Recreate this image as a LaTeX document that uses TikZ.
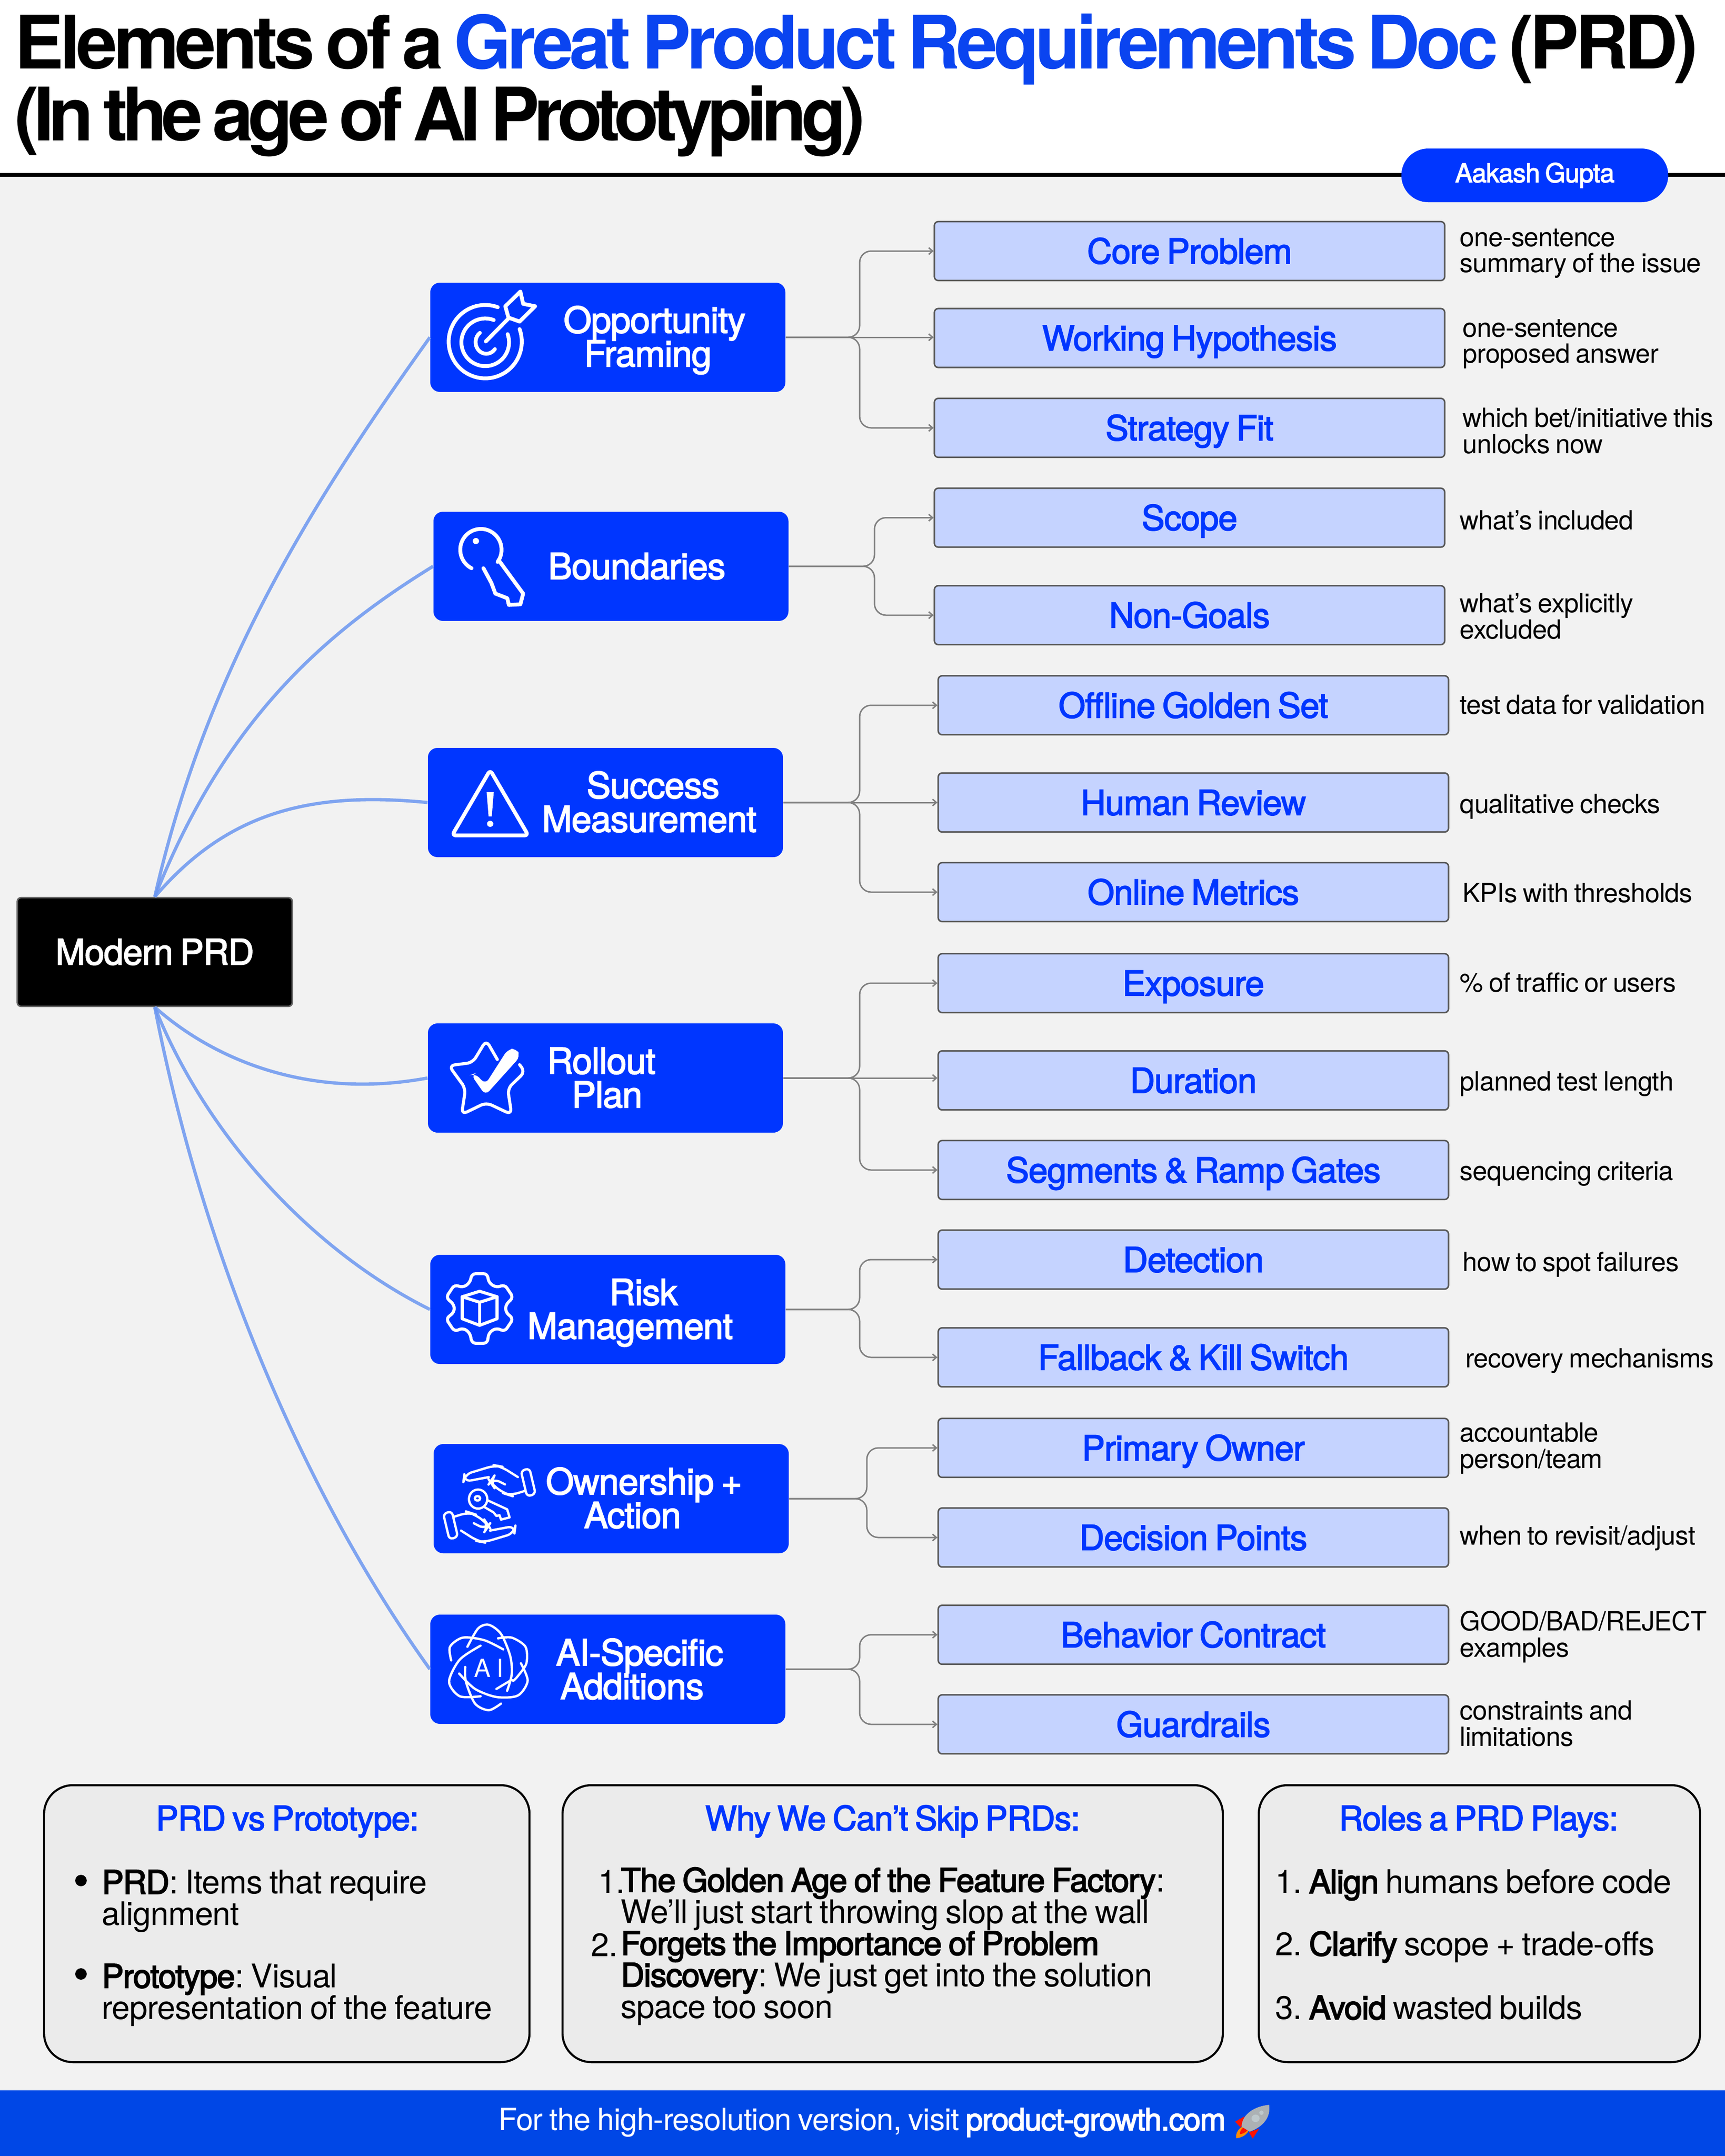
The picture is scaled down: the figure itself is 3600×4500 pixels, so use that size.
\documentclass[tikz,border=0pt]{standalone}
\usepackage{fontspec}
\setmainfont{TeX Gyre Heros}[LetterSpace=-1.5,WordSpace=0.8]
\newfontfamily\medf{TeX Gyre Heros}[FakeBold=2.5,LetterSpace=-1.5,WordSpace=0.75]
\newfontfamily\hbf{TeX Gyre Heros}[FakeBold=3,LetterSpace=-2,WordSpace=0.8]
\newfontfamily\ttlf{TeX Gyre Heros Bold}[LetterSpace=-5.4,WordSpace=0.65]
\newfontfamily\ttlg{TeX Gyre Heros Bold}[LetterSpace=-7.6,WordSpace=0.65]
\newcommand{\hb}[1]{{\hbf #1}}
\usetikzlibrary{arrows.meta,calc}
\definecolor{bgc}{HTML}{F2F2F2}
\definecolor{royal}{HTML}{0036FF}
\definecolor{titleblue}{HTML}{0A44F0}
\definecolor{foot}{HTML}{0047E6}
\definecolor{leaffill}{HTML}{C5D3FF}
\definecolor{edgeblue}{HTML}{6C97F0}
\definecolor{panel}{HTML}{EBEBEB}
\newcommand{\fs}[2]{\fontsize{#1}{#2}\selectfont\lineskiplimit=-20pt \frenchspacing }
\tikzset{
  x=0.25pt,y=-0.25pt,
  blue box/.style={fill=royal,rounded corners=5pt,minimum width=185.25pt,minimum height=57pt,inner sep=0pt},
  blue text/.style={text=white,align=center,font=\medf\fs{18.8}{17.6},inner sep=0pt,
     execute at begin node={\rule{0pt}{17.3pt}},execute at end node={\rule[-4pt]{0pt}{4pt}}},
  leafbox/.style={fill=leaffill,draw=black!65,line width=0.8pt,rounded corners=2pt,minimum width=266.25pt,minimum height=30.75pt,inner sep=0pt,
     text=royal,font=\medf\fs{18}{20},text height=17pt,text depth=4pt},
  note/.style={anchor=west,align=left,font=\fs{13.8}{13.7},inner sep=0pt,
     execute at begin node={\rule{0pt}{12.5pt}},execute at end node={\rule[-3pt]{0pt}{3pt}}},
  trunk/.style={draw=edgeblue,line width=1.7pt,opacity=.85},
  branch/.style={draw=black!50,line width=0.75pt,rounded corners=6pt,-{Straight Barb[length=2pt,width=3.5pt]}},
  panelbox/.style={fill=panel,draw=black,line width=1.1pt,rounded corners=15pt,inner sep=0pt},
  panelhead/.style={text=royal,font=\medf\fs{17.5}{18},inner sep=0pt,text height=16pt,text depth=4pt},
  paneltext/.style={anchor=west,align=left,font=\fs{17}{16.5},inner sep=0pt,
     execute at begin node={\rule{0pt}{16.8pt}},execute at end node={\rule[-4pt]{0pt}{4pt}}},
  icon/.style={draw=white,line width=2pt,line cap=round,line join=round},
  iconmid/.style={draw=white,line width=1.6pt,line cap=round,line join=round},
  iconthin/.style={draw=white,line width=1.2pt,line cap=round,line join=round},
}
\newcommand{\fork}[3]{\draw[branch] (#1.east) -- (#1.east -| #2) -- (#2 |- #3.west) -- (#3.west);}
\newcommand{\straightfork}[2]{\draw[branch] (#1.east) -- (#1.east -| #2.west);}
\newcommand{\handglyph}{%
   \draw[iconthin,rounded corners=4pt] (440,762) -- (385,733) -- (365,730) -- (265,755) -- (262,775) -- (345,762);
   \draw[iconthin,rounded corners=2pt] (450,745) -- (478,738) -- (498,808) -- (470,815) -- cycle;
   \draw[iconthin,rounded corners=4pt] (462,800) -- (415,812) -- (400,808) -- (358,785) -- (350,775) -- (358,765) -- (398,782);
}
\begin{document}
\begin{tikzpicture}
\useasboundingbox (0,0) rectangle (3600,4500);
\fill[bgc] (0,0) rectangle (3600,4500);
\fill[white] (0,0) rectangle (3600,365);
\draw[black,line width=2pt] (0,365) -- (3600,365);
\fill[foot] (0,4363) rectangle (3600,4500);
% title
\node[anchor=base west,inner sep=0pt,font=\ttlf\fs{38.5}{38}] (t1) at (30,143) {Elements of a \textcolor{titleblue}{Great Product Requirements Doc} (PRD)};
\node[anchor=base west,inner sep=0pt,font=\ttlg\fs{38.5}{38}] (t2) at (30,293) {(In the age of AI Prototyping)};
\node[fill=royal,text=white,rounded corners=14pt,minimum width=139.25pt,minimum height=28pt,inner sep=0pt,font=\medf\fs{13.6}{14}] (author) at (3203,366) {Aakash Gupta};
% root
\node[fill=black,draw=black!60,line width=0.8pt,rounded corners=2pt,minimum width=143.5pt,minimum height=56.75pt,inner sep=0pt,text=white,font=\medf\fs{18.5}{18}] (prd) at (323,1987) {Modern PRD};
% categories
\node[blue box] (opp) at (1268.5,704) {};
\node[blue box] (bnd) at (1275,1182) {};
\node[blue box] (suc) at (1263.5,1675) {};
\node[blue box] (rol) at (1263.5,2250) {};
\node[blue box] (rsk) at (1268.5,2733) {};
\node[blue box] (own) at (1275.5,3128) {};
\node[blue box] (ais) at (1268.5,3484) {};
\node[blue text] (opptxt) at (1366,710) {Opportunity\\Framing\hspace*{7pt}};
\node[blue text] (bndtxt) at (1329,1182) {Boundaries};
\node[blue text] (suctxt) at (1355,1681) {\hspace*{4pt}Success\\Measurement};
\node[blue text] (roltxt) at (1255,2257) {Rollout\\\hspace*{6pt}Plan};
\node[blue text] (rsktxt) at (1315,2740) {\hspace*{14pt}Risk\\Management};
\node[blue text] (owntxt) at (1344,3134) {Ownership +\\Action\hspace*{12pt}};
\node[blue text] (aistxt) at (1335,3491) {AI-Specific\\Additions\hspace*{8pt}};
% leaves
\node[leafbox] (l1) at (2482.5,524) {Core Problem};
\node[leafbox] (l2) at (2482.5,705.5) {Working Hypothesis};
\node[leafbox] (l3) at (2482.5,893) {Strategy Fit};
\node[leafbox] (l4) at (2482.5,1080.5) {Scope};
\node[leafbox] (l5) at (2482.5,1284) {Non-Goals};
\node[leafbox] (l6) at (2490.5,1472) {Offline Golden Set};
\node[leafbox] (l7) at (2490.5,1675) {Human Review};
\node[leafbox] (l8) at (2490.5,1862) {Online Metrics};
\node[leafbox] (l9) at (2490.5,2052) {Exposure};
\node[leafbox] (l10) at (2490.5,2255) {Duration};
\node[leafbox] (l11) at (2490.5,2442) {Segments \& Ramp Gates};
\node[leafbox] (l12) at (2490.5,2629) {Detection};
\node[leafbox] (l13) at (2490.5,2833) {Fallback \& Kill Switch};
\node[leafbox] (l14) at (2490.5,3022) {Primary Owner};
\node[leafbox] (l15) at (2490.5,3209) {Decision Points};
\node[leafbox] (l16) at (2490.5,3412) {Behavior Contract};
\node[leafbox] (l17) at (2490.5,3599) {Guardrails};
% notes
\node[note] (n1) at (3046,529) {one-sentence\\summary of the issue};
\node[note] (n2) at (3052,718) {one-sentence\\proposed answer};
\node[note] (n3) at (3052,905) {which bet/initiative this\\unlocks now};
\node[note] (n4) at (3046,1086) {what’s included};
\node[note] (n5) at (3046,1292) {what’s explicitly\\excluded};
\node[note] (n6) at (3046,1471) {test data for validation};
\node[note] (n7) at (3046,1678) {qualitative checks};
\node[note] (n8) at (3052,1864) {KPIs with thresholds};
\node[note] (n9) at (3046,2051) {\% of traffic or users};
\node[note] (n10) at (3046,2257) {planned test length};
\node[note] (n11) at (3046,2444) {sequencing criteria};
\node[note] (n12) at (3052,2634) {how to spot failures};
\node[note] (n13) at (3058,2835) {recovery mechanisms};
\node[note] (n14) at (3046,3023) {accountable\\person/team};
\node[note] (n15) at (3046,3205) {when to revisit/adjust};
\node[note] (n16) at (3046,3416) {GOOD/BAD/REJECT\\examples};
\node[note] (n17) at (3046,3603) {constraints and\\limitations};
% trunk curves
\draw[trunk] (prd.north) .. controls (430,1400) and (650,1050) .. (opp.west);
\draw[trunk] (prd.north) .. controls (470,1500) and (680,1320) .. (bnd.west);
\draw[trunk] (prd.north) .. controls (470,1700) and (640,1650) .. (suc.west);
\draw[trunk] (prd.south) .. controls (450,2215) and (650,2295) .. (rol.west);
\draw[trunk] (prd.south) .. controls (430,2370) and (650,2610) .. (rsk.west);
\draw[trunk] (prd.south) .. controls (430,2650) and (650,3140) .. (ais.west);
% junction columns
\coordinate (j1) at (1794,704);
\coordinate (j2) at (1825,1182);
\coordinate (j3) at (1794,1675);
\coordinate (j4) at (1794,2250);
\coordinate (j5) at (1794,2733);
\coordinate (j6) at (1809,3128);
\coordinate (j7) at (1794,3484);
\fork{opp}{j1}{l1}\straightfork{opp}{l2}\fork{opp}{j1}{l3}
\fork{bnd}{j2}{l4}\fork{bnd}{j2}{l5}
\fork{suc}{j3}{l6}\straightfork{suc}{l7}\fork{suc}{j3}{l8}
\fork{rol}{j4}{l9}\straightfork{rol}{l10}\fork{rol}{j4}{l11}
\fork{rsk}{j5}{l12}\fork{rsk}{j5}{l13}
\fork{own}{j6}{l14}\fork{own}{j6}{l15}
\fork{ais}{j7}{l16}\fork{ais}{j7}{l17}
% icon: target
\begin{scope}[shift={(800,400)},xscale=.829,yscale=.638]
 \draw[icon] (288,378) arc[start angle=-70,end angle=-380,x radius=92,y radius=120];
 \draw[icon] (278,420) arc[start angle=-69,end angle=-380,x radius=60,y radius=78];
 \draw[icon] (243,462) arc[start angle=-127,end angle=-323,x radius=27,y radius=38];
 \draw[icon] (258,490) -- (315,415);
 \draw[icon] (315,412) -- (307,375) -- (345,327) -- (352,367) -- (382,375) -- (343,425) -- cycle;
 % icon: key
 \draw[icon] (222,1232) arc[start angle=117,end angle=396,x radius=52,y radius=68];
 \fill[white] (233,1143) ellipse[x radius=8,y radius=10];
 \draw[icon] (290,1205) -- (352,1315) -- (345,1350) -- (316,1352) -- (312,1330) -- (282,1315) -- (272,1280) -- (252,1232);
\end{scope}
% icon: warning and star
\begin{scope}[shift={(0,1500)},xscale=.829,yscale=.638]
 \draw[icon,rounded corners=2pt] (1234,168) -- (1330,382) -- (1138,382) -- cycle;
 \fill[white] (1225,240) -- (1243,240) -- (1238,320) -- (1230,320) -- cycle;
 \fill[white] (1234,344) ellipse[x radius=8,y radius=10];
 \draw[iconmid,rounded corners=3pt] (1252,1115) -- (1224,1052) -- (1190,1125) -- (1130,1135) -- (1172,1210) -- (1162,1295) -- (1224,1256) -- (1288,1295) -- (1278,1210) -- (1322,1155) -- (1308,1132);
 \fill[white,rounded corners=3pt] (1186,1165) -- (1196,1160) -- (1222,1196) -- (1278,1082) -- (1300,1078) -- (1310,1105) -- (1222,1232) -- cycle;
\end{scope}
% icons: gear, hands, atom
\begin{scope}[shift={(800,2500)},xscale=.638,yscale=.765]
 \draw[iconmid,rounded corners=2pt] (290,207) -- (340,207) -- (345,232) -- (370,245) -- (397,237) -- (425,272) -- (400,292) -- (400,312) -- (425,330) -- (397,365) -- (370,355) -- (345,368) -- (340,397) -- (290,397) -- (283,368) -- (260,355) -- (233,365) -- (205,330) -- (232,312) -- (232,292) -- (205,272) -- (233,237) -- (260,245) -- (283,232) -- cycle;
 \draw[iconmid] (258,270) -- (315,255) -- (372,270) -- (372,330) -- (315,348) -- (258,330) -- cycle;
 \draw[iconmid] (258,270) -- (315,285) -- (372,270) (315,285) -- (315,348);
 \handglyph
 \begin{scope}[shift={(694,1670)},xscale=-1,yscale=-1]\handglyph\end{scope}
 \draw[iconthin] (310,822) ellipse[x radius=30,y radius=26];
 \draw[iconthin] (308,820) ellipse[x radius=9,y radius=6];
 \draw[iconthin] (340,825) -- (405,850) -- (413,872) -- (385,878) -- (380,866) -- (370,868) -- (360,858) -- (333,845);
 \draw[iconthin] plot[smooth] coordinates {(275,1225) (310,1175) (345,1165) (385,1190) (415,1250) (420,1300) (405,1345)};
 \draw[iconthin] plot[smooth] coordinates {(385,1380) (345,1398) (300,1380) (270,1320) (268,1280)};
 \draw[iconthin] plot[smooth] coordinates {(392,1232) (330,1207) (260,1200) (218,1225) (222,1262)};
 \draw[iconthin] plot[smooth] coordinates {(375,1202) (420,1200) (465,1225) (468,1270) (440,1305) (425,1318)};
 \draw[iconthin] plot[smooth] coordinates {(248,1298) (300,1340) (370,1362) (440,1358) (472,1318) (450,1270)};
 \draw[iconthin] plot[smooth] coordinates {(318,1222) (250,1260) (215,1320) (250,1360) (318,1360)};
 \draw[iconthin] (370,1340) -- (420,1315);
 \node[inner sep=0pt,text=white,font=\fs{13}{13}] (aiglyph) at (345,1283) {A\hspace{3pt}I};
\end{scope}
% panels
\node[panelbox,minimum width=253.25pt,minimum height=144.5pt] (p1) at (598.5,4015) {};
\node[panelbox,minimum width=344.5pt,minimum height=144.5pt] (p2) at (1863,4015) {};
\node[panelbox,minimum width=230.25pt,minimum height=144.5pt] (p3) at (3087.5,4015) {};
\node[panelhead] (h1) at (600,3796) {PRD vs Prototype:};
\node[panelhead] (h2) at (1863,3796) {Why We Can’t Skip PRDs:};
\node[panelhead] (h3) at (3086,3796) {Roles a PRD Plays:};
\node[fill=black,circle,minimum size=6pt,inner sep=0pt] (b1) at (169,3925) {};
\node[fill=black,circle,minimum size=6pt,inner sep=0pt] (b2) at (169,4120) {};
\node[paneltext] (a1) at (212,3969) {\hb{PRD}: Items that require\\alignment};
\node[paneltext] (a2) at (212,4165) {\hb{Prototype}: Visual\\representation of the feature};
\node[paneltext] (m1) at (1248,3926) {1.};
\node[paneltext] (m2) at (1233,4058) {2.};
\node[paneltext] (m3) at (1295,4063) {\hb{The Golden Age of the Feature Factory}:\\We’ll just start throwing slop at the wall\\\hb{Forgets the Importance of Problem}\\\hb{Discovery}: We just get into the solution\\space too soon};
\node[paneltext] (r1) at (2661,3926) {1. \hb{Align} humans before code};
\node[paneltext] (r2) at (2661,4056) {2. \hb{Clarify} scope + trade-offs};
\node[paneltext] (r3) at (2661,4189) {3. \hb{Avoid} wasted builds};
% footer
\node[inner sep=0pt,text=white,font=\fs{16}{16}] (ft) at (1799,4430) {For the high-resolution version, visit \hb{product-growth.com}};
\begin{scope}[shift={(2400,3850)},xscale=.765,yscale=.4146]
 \fill[red!85!orange] (232,1395) -- (258,1368) -- (248,1425) -- cycle;
 \fill[red!85!orange] (280,1480) -- (298,1430) -- (270,1448) -- cycle;
 \fill[orange!90!yellow] (235,1478) .. controls (232,1440) and (250,1415) .. (275,1400) .. controls (275,1440) and (260,1475) .. (235,1478) -- cycle;
 \fill[red!85!orange] (245,1458) .. controls (245,1435) and (255,1420) .. (275,1400) .. controls (272,1430) and (262,1455) .. (245,1458) -- cycle;
 \fill[black!25!cyan!10!gray!70!white] (325,1310) .. controls (275,1320) and (250,1370) .. (250,1420) -- (272,1445) .. controls (310,1420) and (330,1370) .. (325,1310) -- cycle;
 \fill[black!75!cyan!30] (288,1378) ellipse[x radius=11,y radius=19];
 \fill[black!75!cyan!30] (304,1350) ellipse[x radius=6,y radius=11];
\end{scope}
\end{tikzpicture}
\end{document}
